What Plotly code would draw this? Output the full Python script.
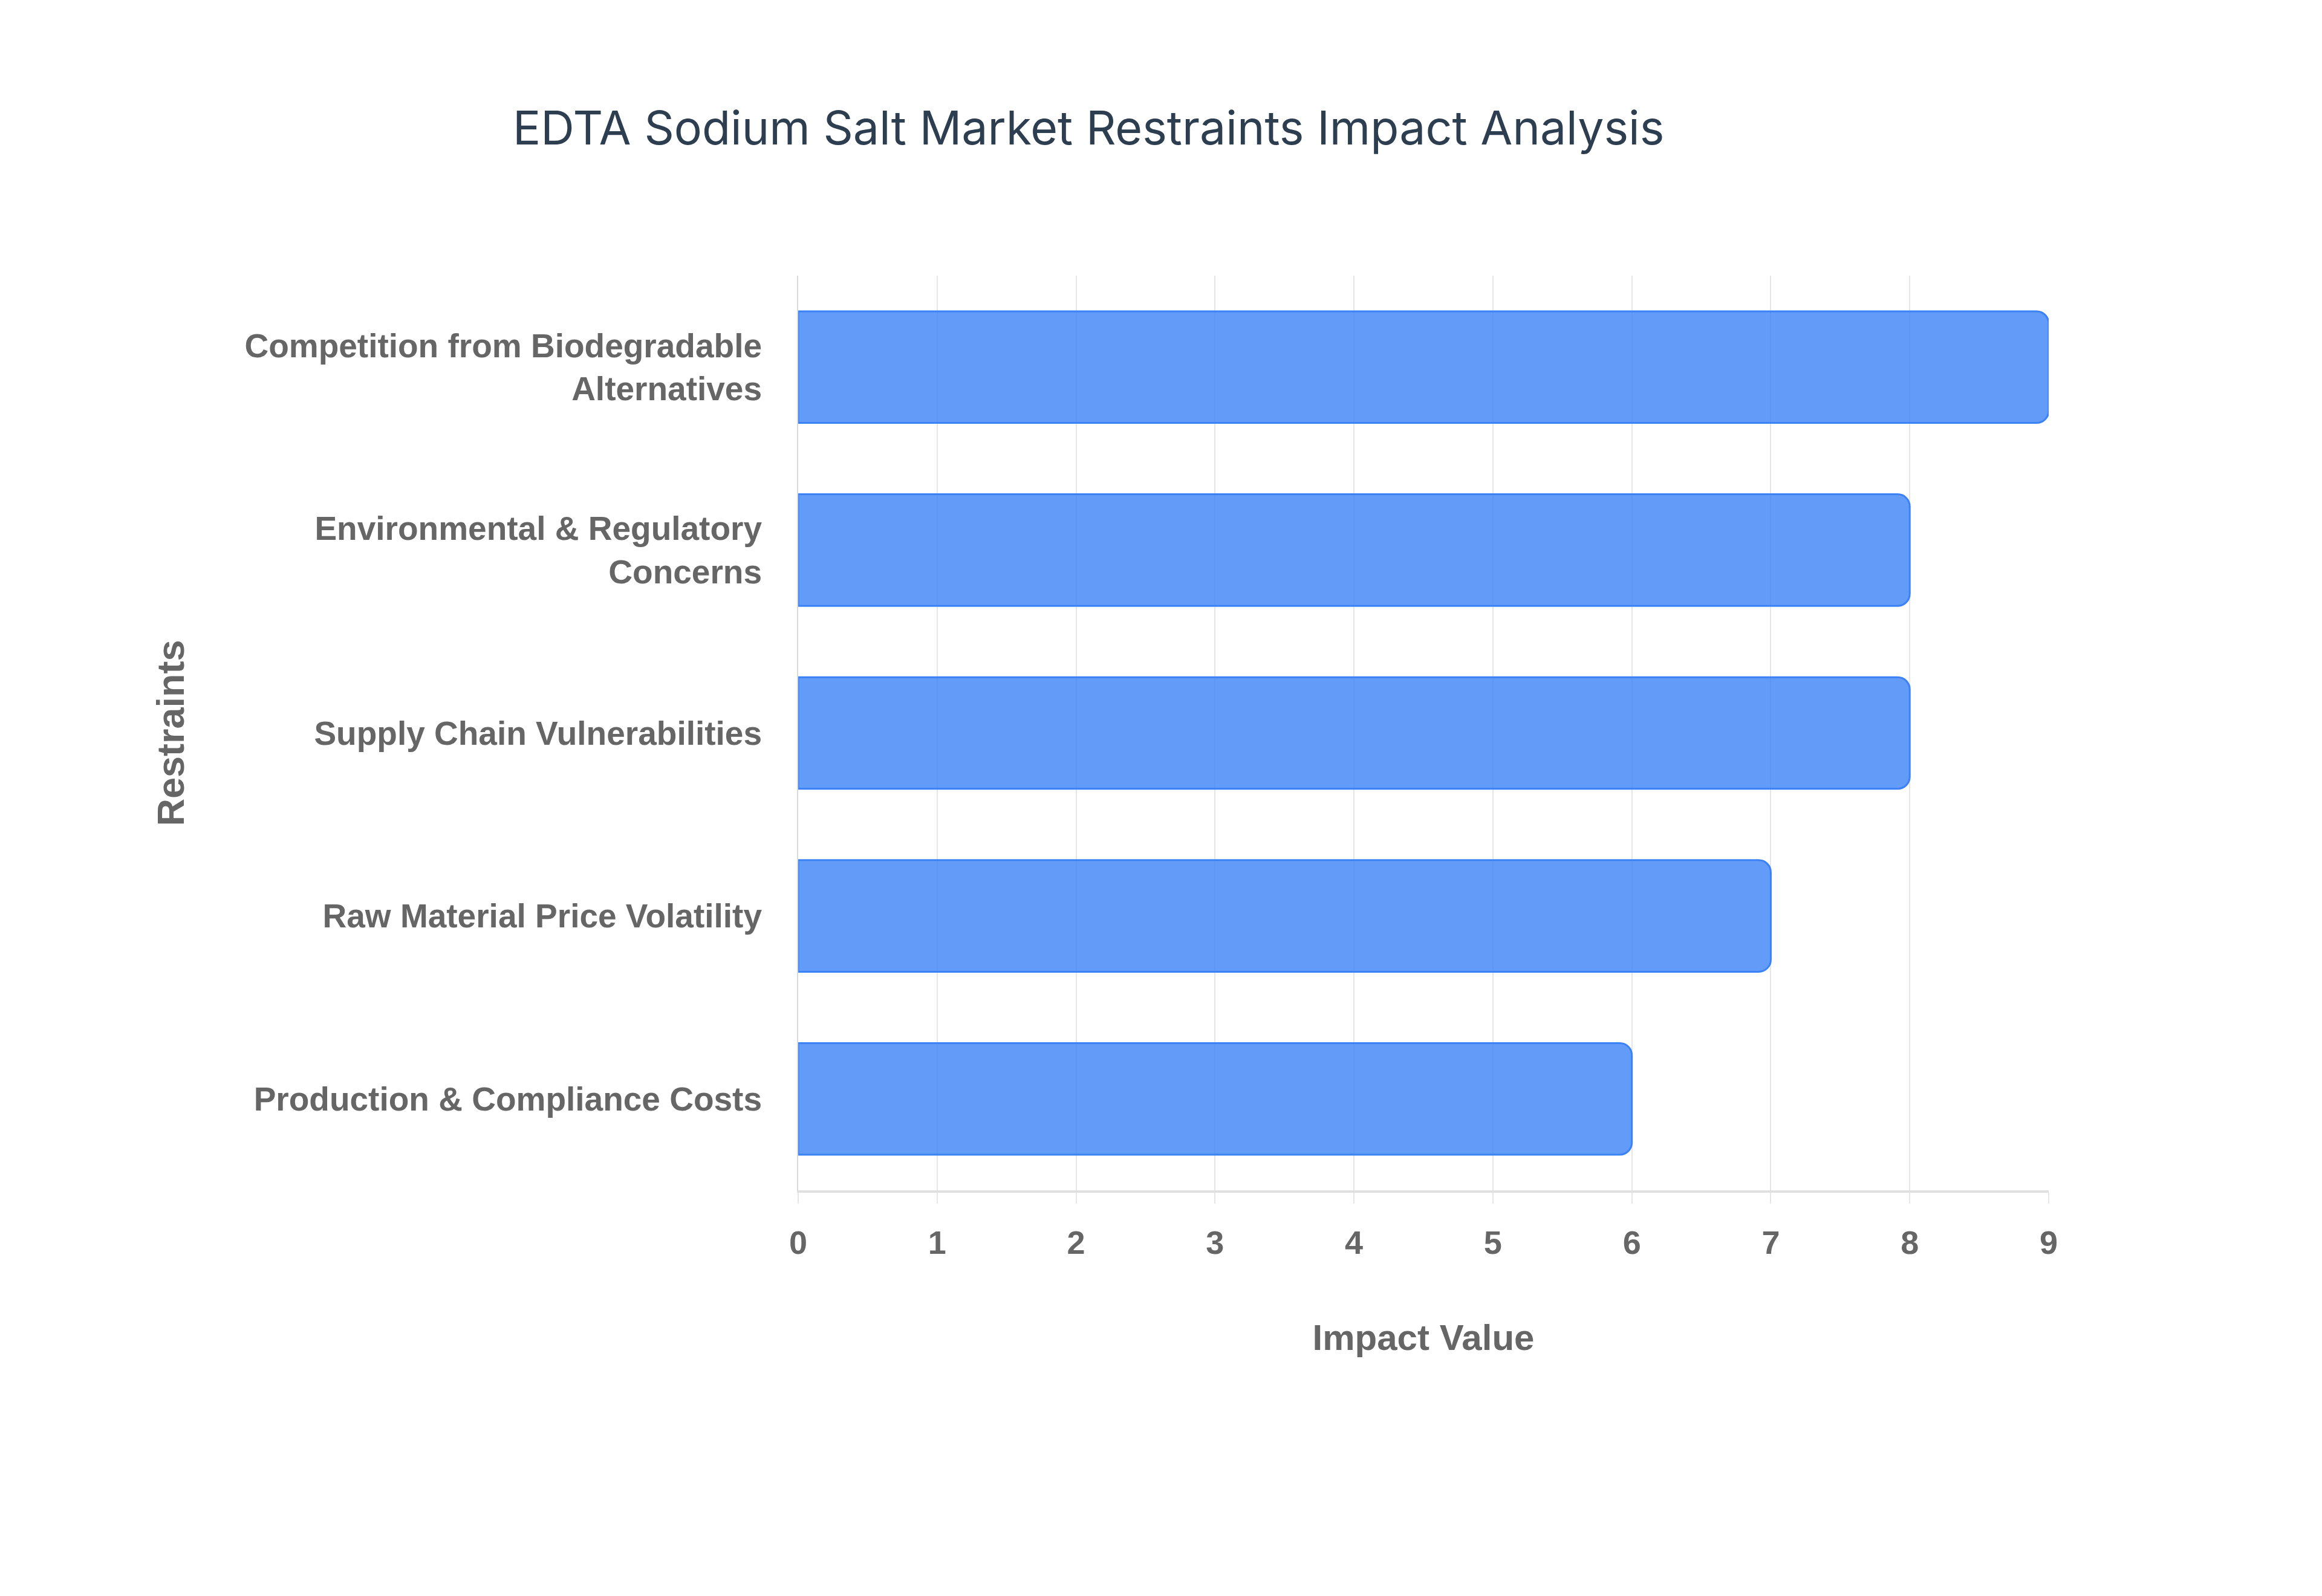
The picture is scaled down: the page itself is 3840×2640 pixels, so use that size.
import plotly.graph_objects as go

categories = [
    "Production & Compliance Costs",
    "Raw Material Price Volatility",
    "Supply Chain Vulnerabilities",
    "Environmental & Regulatory<br>Concerns",
    "Competition from Biodegradable<br>Alternatives",
]
impact_values = [6, 7, 8, 8, 9]
x_ticks = list(range(0, 10))

fig = go.Figure(
    go.Bar(
        x=impact_values,
        y=categories,
        orientation="h",
        width=0.61,
        marker=dict(color="rgba(59,130,246,0.8)", line=dict(color="#3b82f6", width=3)),
        hoverinfo="x+y",
    )
)

fig.update_layout(
    width=3840,
    height=2640,
    paper_bgcolor="white",
    plot_bgcolor="white",
    barcornerradius=20,
    margin=dict(l=1312, r=460, t=448, b=679),
    showlegend=False,
    title=dict(
        text="EDTA Sodium Salt Market Restraints Impact Analysis",
        x=0.4667,
        xanchor="center",
        y=1 - 204 / 2640,
        yanchor="middle",
        font=dict(family="Inter, Open Sans, sans-serif", size=77, color="#2c3e50"),
    ),
    font=dict(family="Liberation Sans, Arial, sans-serif", color="#666666"),
)

fig.update_xaxes(
    range=[0, 9],
    tickvals=x_ticks,
    ticktext=[str(v) for v in x_ticks],
    showgrid=True,
    gridcolor="#e6e6e6",
    gridwidth=2,
    zeroline=False,
    showline=True,
    linecolor="#e0e0e0",
    linewidth=4,
    ticks="outside",
    ticklen=18,
    tickcolor="#e6e6e6",
    tickwidth=2,
    ticklabelstandoff=18,
    tickfont=dict(family="Liberation Sans, Arial, sans-serif", size=54, color="#666666", weight="bold"),
    title=dict(
        text="Impact Value",
        font=dict(family="Liberation Sans, Arial, sans-serif", size=60, color="#666666", weight="bold"),
        standoff=108,
    ),
)

fig.update_yaxes(
    showgrid=False,
    zeroline=False,
    showline=True,
    linecolor="#d9d9d9",
    linewidth=2,
    ticks="",
    ticklabelstandoff=47,
    tickfont=dict(family="Liberation Sans, Arial, sans-serif", size=55, color="#666666", weight="bold"),
    title=dict(
        text="Restraints",
        font=dict(family="Liberation Sans, Arial, sans-serif", size=63, color="#666666", weight="bold"),
        standoff=79,
    ),
)

fig.write_html("out.html")
